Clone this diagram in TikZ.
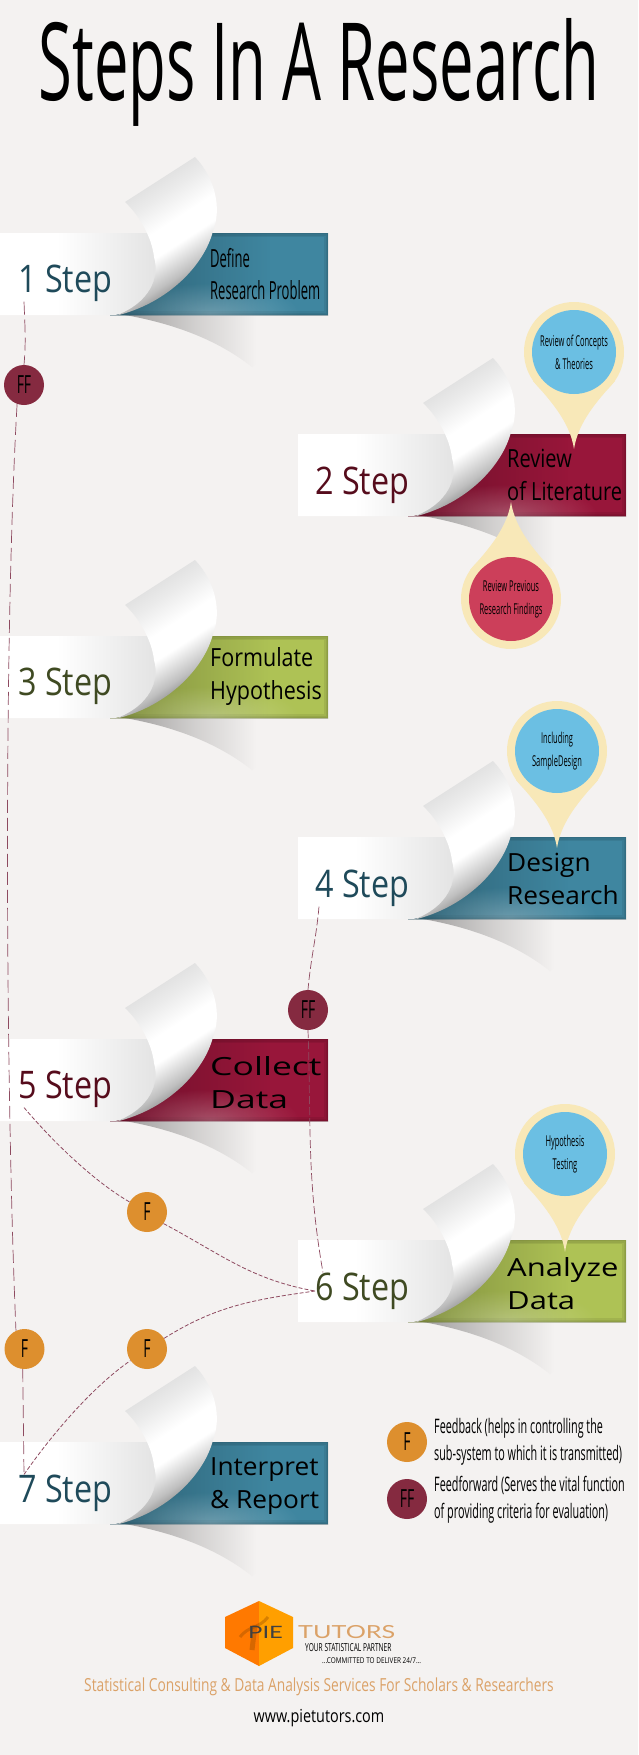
\documentclass[tikz,border=0pt]{standalone}
\usepackage{fontspec}
\usetikzlibrary{fadings}
\setmainfont{Open Sans}
\newfontfamily\titlefont[FakeStretch=0.57]{Open Sans}
\newfontfamily\stepfont[FakeStretch=0.85]{Open Sans}
\newfontfamily\narrowfont[FakeStretch=0.56]{Open Sans}
\newfontfamily\barnfont[FakeStretch=0.52]{Open Sans}
\newfontfamily\pinfont[FakeStretch=0.5]{Open Sans}
\newfontfamily\legendfont[FakeStretch=0.54]{Open Sans}
\newfontfamily\plainfont[FakeStretch=0.8]{Open Sans}
\newfontfamily\midfont[FakeStretch=0.86]{Open Sans}
\newfontfamily\servicefont[FakeStretch=0.765]{Open Sans}
\newfontfamily\partnerfont[FakeStretch=0.6]{Open Sans}
\newfontfamily\widefont[FakeStretch=1.05]{Open Sans}
\newfontfamily\broadfont[FakeStretch=1.24]{Open Sans}
\newfontfamily\broadestfont[FakeStretch=1.42]{Open Sans}
\newfontfamily\logofont[FakeStretch=1.4]{Lato}

\definecolor{bgcol}{HTML}{F4F2F1}
\definecolor{tealbar}{HTML}{3F86A0}
\definecolor{redbar}{HTML}{98163A}
\definecolor{greenbar}{HTML}{AEC255}
\definecolor{tealtext}{HTML}{1F4A5A}
\definecolor{redtext}{HTML}{560C1C}
\definecolor{greentext}{HTML}{3F4A22}
\definecolor{pincol}{HTML}{F8E8B8}
\definecolor{bluepin}{HTML}{6BBFE3}
\definecolor{redpin}{HTML}{CC3F5A}
\definecolor{fcol}{HTML}{DD8F2E}
\definecolor{ffcol}{HTML}{852A40}
\definecolor{linkcol}{HTML}{8E4A60}
\definecolor{orangetext}{HTML}{DBA268}

\pgfdeclarehorizontalshading{bandshade}{100bp}{color(0bp)=(white); color(42bp)=(white); color(72bp)=(black!11); color(100bp)=(black!11)}
\pgfdeclarehorizontalshading{curlshade}{100bp}{color(0bp)=(black!15); color(25bp)=(black!15); color(36bp)=(black!8); color(46bp)=(white); color(54bp)=(white); color(64bp)=(black!25); color(72bp)=(black!55); color(78bp)=(black!72); color(100bp)=(black!72)}
\pgfdeclarehorizontalshading{shadowshade}{100bp}{color(0bp)=(black!30!bgcol); color(30bp)=(black!30!bgcol); color(48bp)=(black!14!bgcol); color(68bp)=(bgcol); color(100bp)=(bgcol)}
\tikzfading[name=glowfade, inner color=transparent!75, outer color=transparent!100]
\tikzfading[name=curlfade, left color=transparent!0, right color=transparent!100]

% one strip: shadow, coloured bar, white band and the curled corner
\newcommand\stepstrip[3]{%
  \begin{scope}[shift={(#1,#2)}]
    \shade[shading=shadowshade]
      (125,82) .. controls (170,90) and (215,105) .. (252,134)
      .. controls (268,120) and (278,100) .. (272,82) -- cycle;
    \fill[#3] (110,0) rectangle (328,82);
    \begin{scope}
      \clip (110,0) rectangle (328,82);
      \fill[#3!50!black,opacity=.55,path fading=curlfade] (110,0) rectangle (270,82);
      \foreach \w in {8,5,2} \draw[#3!60!black,opacity=.18,line width=\w] (110,0) rectangle (328,82);
      \fill[white,path fading=glowfade] (120,50) rectangle (300,110);
    \end{scope}
    \shade[shading=bandshade] (0,0) -- (160,0) -- (168,40)
      .. controls (158,65) and (138,78) .. (115,82) -- (0,82) -- cycle;
    \shade[shading=curlshade,shading angle=-57] (125,-31) -- (195,-76)
      .. controls (215,-55) and (222,-25) .. (213,-2)
      .. controls (205,30) and (170,70) .. (115,83)
      .. controls (150,70) and (160,45) .. (154,24)
      .. controls (152,5) and (140,-17) .. cycle;
  \end{scope}
}
% pale drop behind a round note
\newcommand\pinshape[4]{%
  \begin{scope}[shift={(#1,#2)},yscale=#3]
    \fill[pincol] (0,0) circle (50);
    \fill[pincol] (-41,29) .. controls (-24,48) and (-4,70) .. (0,#4)
      .. controls (4,70) and (24,48) .. (41,29) -- cycle;
  \end{scope}
}

\begin{document}
\begin{tikzpicture}
  [x=1pt,y=-1pt,
    steplabel/.style={anchor=west,inner sep=0,font=\stepfont\fontsize{38}{40}\selectfont},
    barlabel/.style={anchor=west,inner sep=0,align=left,text=black,font=#1},
    pinnote/.style={circle,minimum size=84,inner sep=0,align=center,text=black,font=\pinfont\fontsize{15}{23}\selectfont},
    fbnode/.style={circle,minimum size=40,inner sep=0,fill=fcol,text=black,font=\narrowfont\fontsize{25}{25}\selectfont},
    ffnode/.style={circle,minimum size=40,inner sep=0,fill=ffcol,text=black,font=\narrowfont\fontsize{25}{25}\selectfont},
    dashlong/.style={draw=linkcol,dash pattern=on 13pt off 5pt,line width=.7},
    dashmid/.style={draw=linkcol,dash pattern=on 8pt off 3pt,line width=.7},
    dashshort/.style={draw=linkcol,dash pattern=on 4pt off 2pt,line width=.8},
    legendtext/.style={anchor=west,inner sep=0,align=left,text=black,font=\legendfont\fontsize{20}{27}\selectfont},
]
  \useasboundingbox (0,0) rectangle (638,1755);
  \fill[bgcol] (0,0) rectangle (638,1755);

  \node[font=\titlefont\fontsize{108}{108}\selectfont,inner sep=0](title) at (319,72) {Steps In A Research};

  \stepstrip{0}{233}{tealbar}
  \stepstrip{298}{434}{redbar}
  \stepstrip{0}{636}{greenbar}
  \stepstrip{298}{837}{tealbar}
  \stepstrip{0}{1039}{redbar}
  \stepstrip{298}{1240}{greenbar}
  \stepstrip{0}{1442}{tealbar}

  \pinshape{574}{352}{1}{97}
  \pinshape{511}{599}{-1}{97}
  \pinshape{557}{751}{1}{97}
  \pinshape{565}{1154}{1}{98}

  \node[pinnote,fill=bluepin](pin2a) at (574,352) {Review of Concepts\\\& Theories};
  \node[pinnote,fill=redpin](pin2b) at (511,599) {Review Previous\\Research Findings};
  \node[pinnote,fill=bluepin](pin4) at (557,751) {Including\\SampleDesign};
  \node[pinnote,fill=bluepin](pin6) at (565,1154) {Hypothesis\\Testing};

  \node[steplabel,text=tealtext](step1) at (18,283) {1 Step};
  \node[steplabel,text=redtext](step2) at (315,485) {2 Step};
  \node[steplabel,text=greentext](step3) at (18,686) {3 Step};
  \node[steplabel,text=tealtext](step4) at (315,888) {4 Step};
  \node[steplabel,text=redtext](step5) at (18,1089) {5 Step};
  \node[steplabel,text=greentext](step6) at (315,1291) {6 Step};
  \node[steplabel,text=tealtext](step7) at (18,1493) {7 Step};

  \node[barlabel=\barnfont\fontsize{25}{32}\selectfont](bar1) at (210,274) {Define\\Research Problem};
  \node[barlabel=\plainfont\fontsize{25}{33}\selectfont](bar2) at (507,475) {Review\\of Literature};
  \node[barlabel=\midfont\fontsize{25}{33}\selectfont](bar3) at (210,676) {Formulate\\Hypothesis};
  \node[barlabel=\widefont\fontsize{25}{33}\selectfont](bar4) at (507,879) {Design\\Research};
  \node[barlabel=\broadestfont\fontsize{25}{33}\selectfont](bar5) at (210,1083) {Collect\\Data};
  \node[barlabel=\broadfont\fontsize{25}{33}\selectfont](bar6) at (507,1284) {Analyze\\Data};
  \node[barlabel=\widefont\fontsize{25}{33}\selectfont](bar7) at (210,1486) {Interpret\\\& Report};

  \node[ffnode](ff1) at (24,385) {FF};
  \node[ffnode](ff4) at (308,1010) {FF};
  \node[fbnode](fb5) at (147,1212) {F};
  \node[fbnode](fbleft) at (24.5,1349) {F};
  \node[fbnode](fbmid) at (147,1349) {F};

  \draw[dashlong] ([xshift=6]step1.south west) to[out=-88,in=85] (ff1.north);
  \draw[dashlong] (ff1.250) .. controls (3,650) and (6,1100) .. (fbleft.115);
  \draw[dashlong] (fbleft.265) -- ([xshift=6]step7.north west);
  \draw[dashmid] ([xshift=4]step4.south west) to[out=-95,in=85] (ff4.north);
  \draw[dashmid] (ff4.south) to[out=-88,in=100] ([xshift=8]step6.north west);
  \draw[dashshort] ([xshift=6]step5.south west) .. controls (60,1150) and (100,1185) .. (fb5.150);
  \draw[dashshort] (fb5.-35) to[out=-28,in=170] (step6.west);
  \draw[dashshort] (fbmid.32) to[out=32,in=188] (step6.west);
  \draw[dashshort] ([xshift=6]step7.north west) .. controls (55,1430) and (95,1385) .. (fbmid.215);

  \node[fbnode](legf) at (407,1442) {F};
  \node[ffnode](legff) at (407,1499) {FF};
  \node[legendtext](legtextf) at (434,1442) {Feedback (helps in controlling the\\sub-system to which it is transmitted)};
  \node[legendtext](legtextff) at (434,1500) {Feedforward (Serves the vital function\\of providing criteria for evaluation)};

  % logo
  \fill[orange!95!red] (259,1601) -- (225,1617) -- (225,1648) -- (259,1666) -- cycle;
  \fill[orange!75!yellow] (259,1601) -- (293,1617) -- (293,1648) -- (259,1666) -- cycle;
  \draw[black!45!orange,line width=3,opacity=.35] (240,1637) .. controls (248,1626) and (260,1628) .. (268,1617);
  \draw[black!45!orange,line width=5,opacity=.35] (255,1625) -- (252,1650);
  \node[inner sep=0,anchor=west,text=black!75,font=\logofont\fontsize{17}{17}\selectfont](pie) at (248,1632) {PIE};
  \node[inner sep=0,anchor=west,text=orangetext,font=\logofont\fontsize{18}{18}\selectfont](tutors) at (298,1632) {TUTORS};
  \node[inner sep=0,anchor=west,font=\partnerfont\fontsize{11}{11}\selectfont](partner) at (305,1648) {YOUR STATISTICAL PARTNER};
  \node[inner sep=0,anchor=west,font=\plainfont\fontsize{8}{8}\selectfont](committed) at (322,1661) {...COMMITTED TO DELIVER 24/7...};
  \node[inner sep=0,text=orangetext,font=\servicefont\fontsize{18}{18}\selectfont](services) at (319,1687) {Statistical Consulting \& Data Analysis Services For Scholars \& Researchers};
  \node[inner sep=0,font=\plainfont\fontsize{18}{18}\selectfont](web) at (319,1718) {www.pietutors.com};
\end{tikzpicture}
\end{document}
